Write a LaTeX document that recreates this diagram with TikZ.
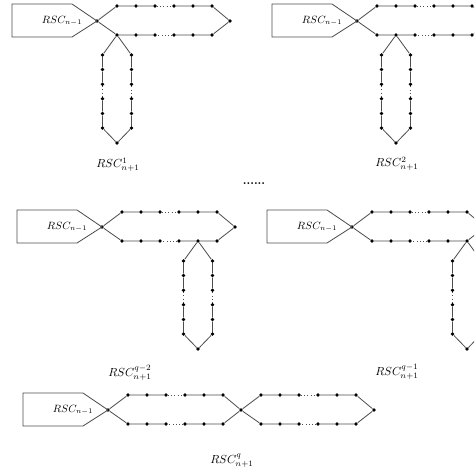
\documentclass[tikz,border=0pt]{standalone}
\usepackage{amsmath,amssymb}
\usepackage{tikz}
\usepackage{xcolor}
\definecolor{wire}{HTML}{4D4D4D}
\tikzset{
  vtx/.style={circle, fill=black, inner sep=0pt, minimum size=3.2pt},
  link/.style={draw=wire, line width=0.7pt},
  gaplink/.style={draw=wire, line width=0.7pt, dotted},
  caption/.style={font=\normalsize}
}
% stem: centre dot, the RSC_{n-1} box in front of it
\newcommand{\stem}[3]{%
  \node[vtx] (#1-c) at (#2,#3) {};
  \node[font=\small] (#1-box) at (#2-35,#3) {$RSC_{n-1}$};
  \draw[link] (#1-c.center) -- ++(-25,-17) -- ++(-60,0) -- ++(0,33) -- ++(60,0) -- cycle;
}
% ring: two rows of dots from a left tip to a right tip
\newcommand{\ring}[4]{%
  \foreach \k in {0,...,5} {
    \node[vtx] (#1-u\k) at (#3+20+19*\k,#4-15) {};
    \node[vtx] (#1-l\k) at (#3+20+19*\k,#4+14) {};
  }
  \node[vtx] (#1-e) at (#3+133,#4) {};
  \draw[link] (#2) -- (#1-u0) -- (#1-u1) -- (#1-u2);
  \draw[gaplink] (#1-u2) -- (#1-u3);
  \draw[link] (#1-u3) -- (#1-u4) -- (#1-u5) -- (#1-e) -- (#1-l5) -- (#1-l4) -- (#1-l3);
  \draw[gaplink] (#1-l3) -- (#1-l2);
  \draw[link] (#1-l2) -- (#1-l1) -- (#1-l0) -- (#2);
}
% hang: the ring hanging down from a dot of the lower row
\newcommand{\hang}[4]{%
  \foreach \j in {0,...,5} {
    \node[vtx] (#1-a\j) at (#3-14.5,#4+20+14.6*\j) {};
    \node[vtx] (#1-b\j) at (#3+14.5,#4+20+14.6*\j) {};
  }
  \node[vtx] (#1-z) at (#3,#4+108) {};
  \draw[link] (#2) -- (#1-a0) -- (#1-a1) -- (#1-a2);
  \draw[gaplink] (#1-a2) -- (#1-a3);
  \draw[link] (#1-a3) -- (#1-a4) -- (#1-a5) -- (#1-z) -- (#1-b5) -- (#1-b4) -- (#1-b3);
  \draw[gaplink] (#1-b3) -- (#1-b2);
  \draw[link] (#1-b2) -- (#1-b1) -- (#1-b0) -- (#2);
}

\begin{document}
\begin{tikzpicture}[x=0.03cm, y=-0.03cm]
    \useasboundingbox (0,0) rectangle (474,474);
    \clip (0,0) rectangle (474,474);

    % RSC^1_{n+1}
    \stem{p1}{97}{21}
    \ring{p1r}{p1-c}{97}{21}
    \hang{p1h}{p1r-l0}{117}{35}
    \node[caption] (p1-lab) at (118,165) {$RSC^{1}_{n+1}$};

    % RSC^2_{n+1}
    \stem{p2}{357}{21}
    \ring{p2r}{p2-c}{357}{21}
    \hang{p2h}{p2r-l1}{396}{35}
    \node[caption] (p2-lab) at (397,164) {$RSC^{2}_{n+1}$};

    \node[font=\bfseries] (more) at (254,184) {......};

    % RSC^{q-2}_{n+1}
    \stem{p3}{102}{227}
    \ring{p3r}{p3-c}{102}{227}
    \hang{p3h}{p3r-l4}{198}{241}
    \node[caption] (p3-lab) at (130,373) {$RSC^{q-2}_{n+1}$};

    % RSC^{q-1}_{n+1}
    \stem{p4}{352}{227}
    \ring{p4r}{p4-c}{352}{227}
    \hang{p4h}{p4r-l5}{467}{241}
    \node[caption] (p4-lab) at (397,372) {$RSC^{q-1}_{n+1}$};

    % RSC^q_{n+1}
    \stem{p5}{108}{410}
    \ring{p5a}{p5-c}{108}{410}
    \ring{p5b}{p5a-e}{241}{410}
    \node[caption] (p5-lab) at (232,461) {$RSC^{q}_{n+1}$};

\end{tikzpicture}
\end{document}
